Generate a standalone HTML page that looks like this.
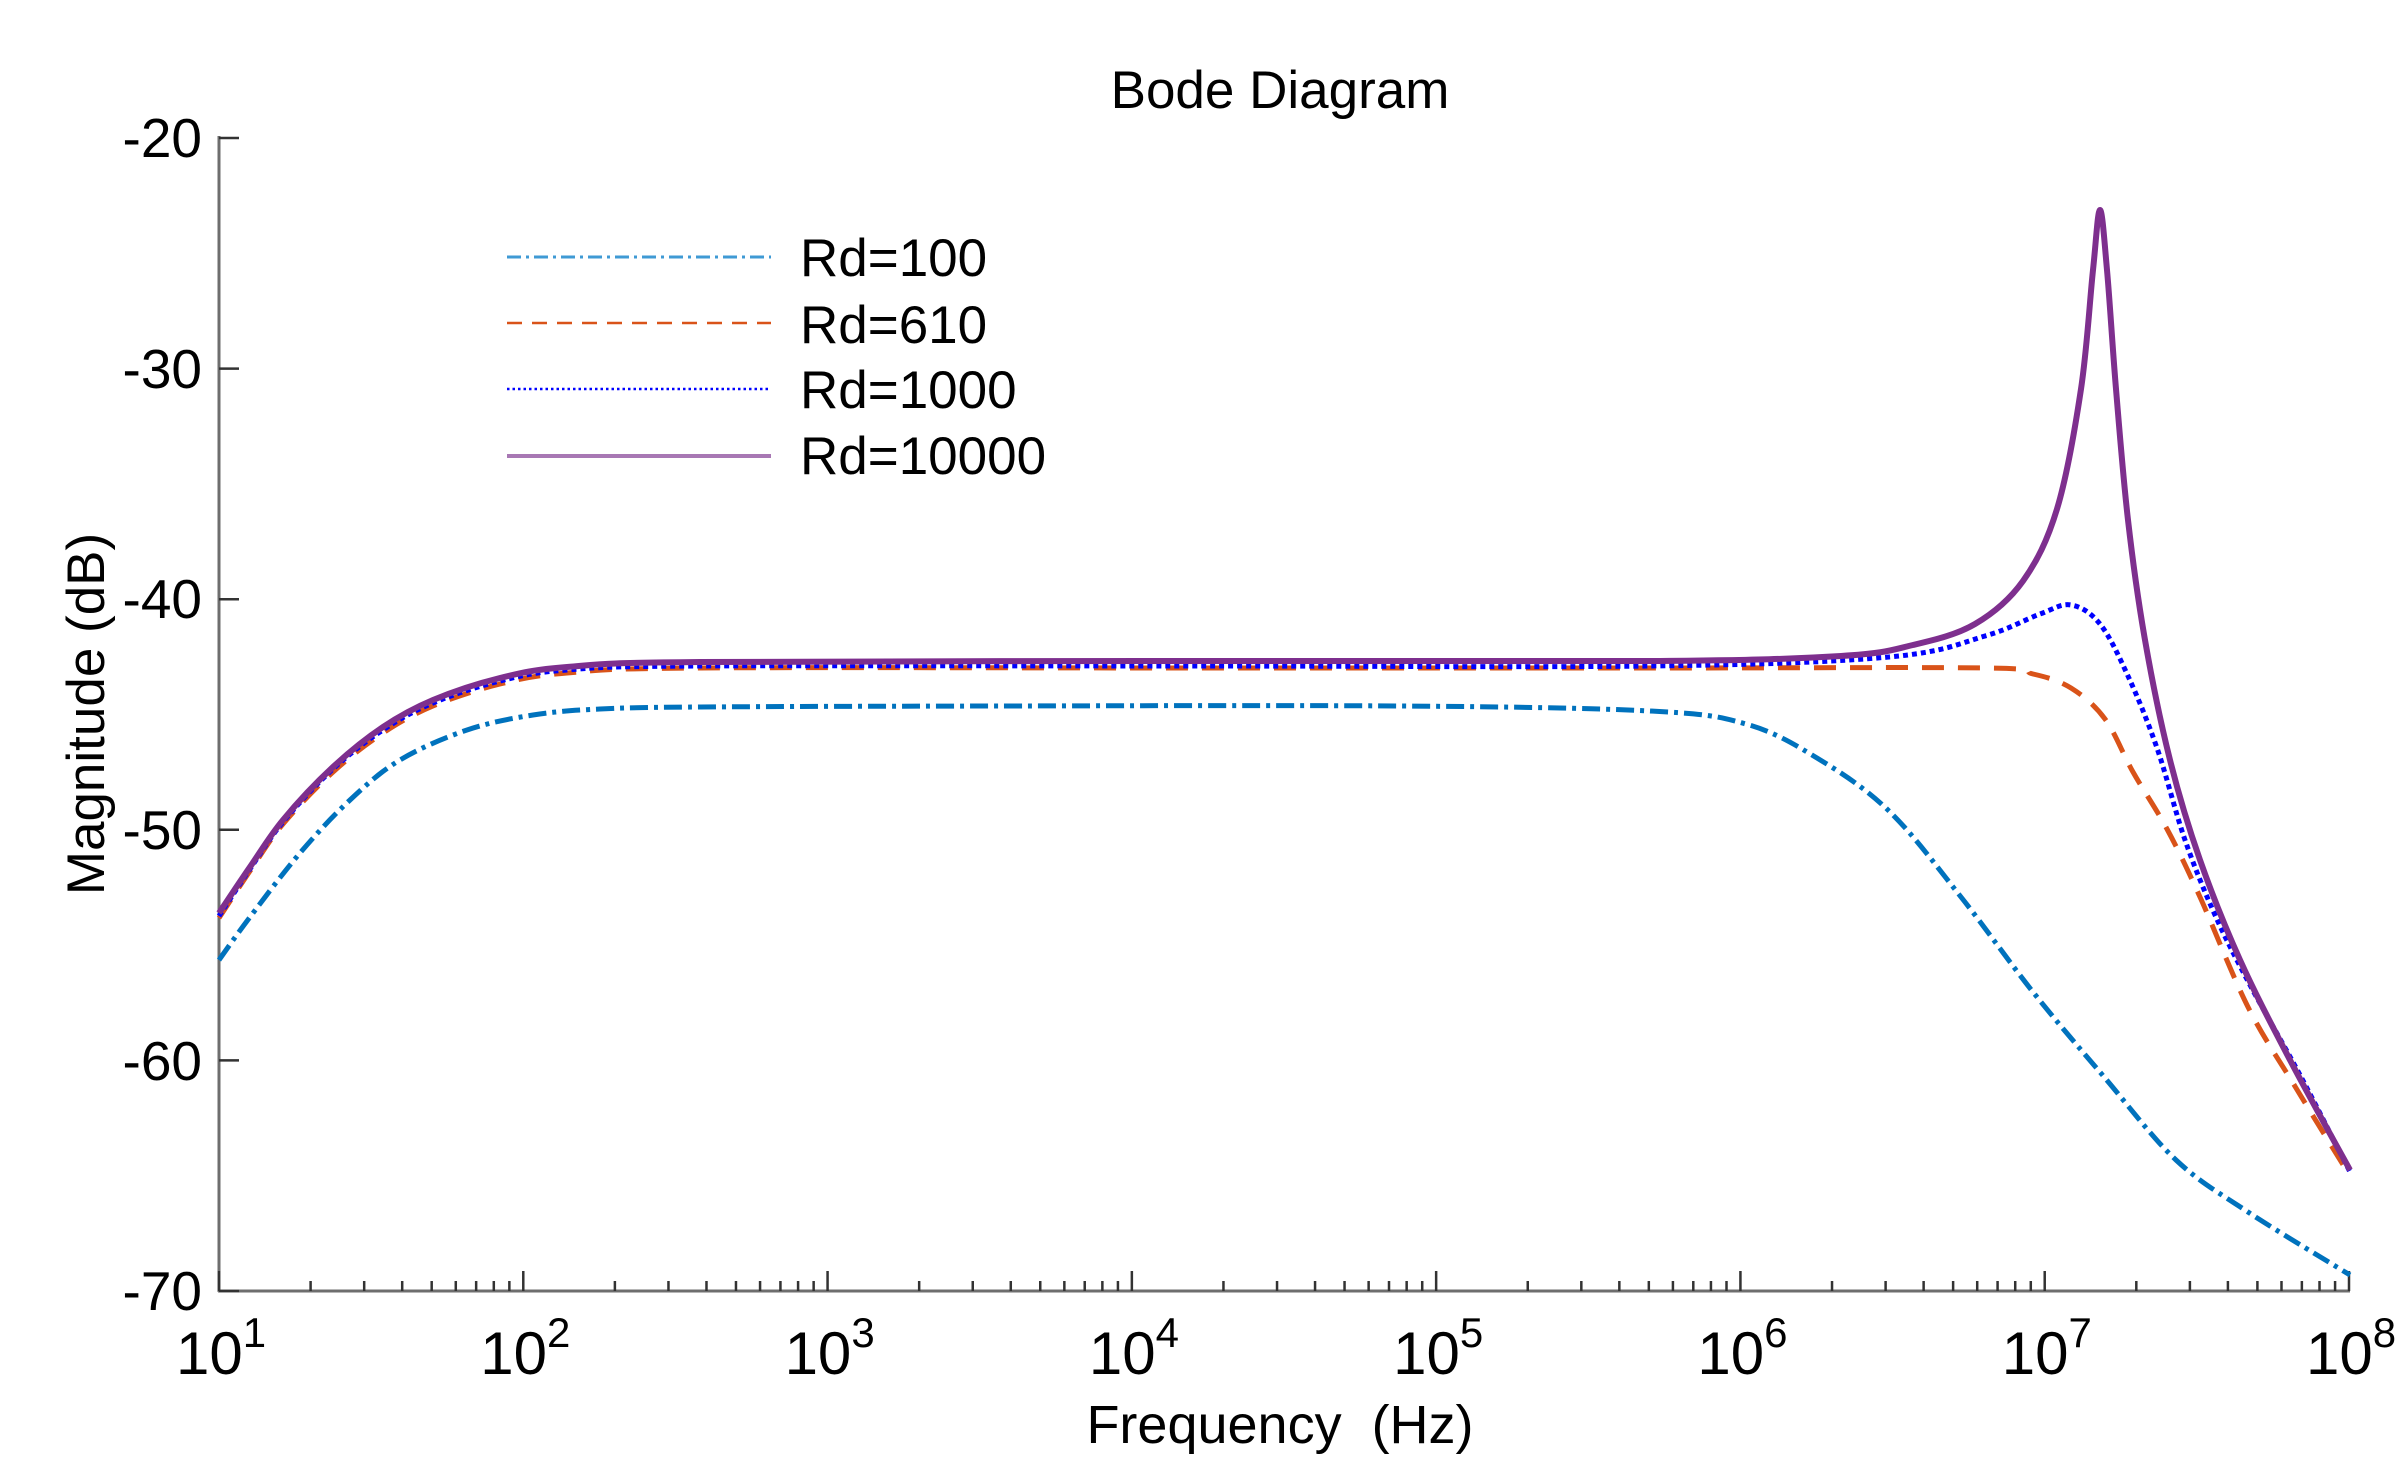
<!DOCTYPE html>
<html><head><meta charset="utf-8"><style>
html,body{margin:0;padding:0;background:#fff;}
svg{display:block;font-family:"Liberation Sans",Arial,sans-serif;}
</style></head><body>
<svg id="s" width="2397" height="1480" viewBox="0 0 2397 1480" xmlns="http://www.w3.org/2000/svg">
<rect width="2397" height="1480" fill="#fff"/>
<text x="1280" y="108" font-size="53" text-anchor="middle" fill="#000">Bode Diagram</text>
<g id="axes" stroke="#6e6e6e" stroke-width="3" fill="none">
<line x1="219" y1="136" x2="219" y2="1292"/>
<line x1="218" y1="1291" x2="2350" y2="1291"/>
</g>
<g id="ticks" stroke="#333" stroke-width="2.5"></g>
<g font-size="55" text-anchor="end" fill="#000">
<text x="202" y="157">-20</text>
<text x="202" y="388">-30</text>
<text x="202" y="618">-40</text>
<text x="202" y="849">-50</text>
<text x="202" y="1080">-60</text>
<text x="202" y="1310">-70</text>
</g>
<g id="xl" font-size="60" fill="#000"></g>
<text x="1280" y="1443" font-size="54" text-anchor="middle" fill="#000" xml:space="preserve">Frequency  (Hz)</text>
<text transform="translate(104,714) rotate(-90)" font-size="53" text-anchor="middle" fill="#000">Magnitude (dB)</text>
<g id="curves" fill="none" stroke-linecap="butt" stroke-linejoin="round"></g>
<g>
<line x1="507" y1="257" x2="771" y2="257" stroke="#3f9ad4" stroke-width="3" stroke-dasharray="14 5 3 5"/>
<line x1="507" y1="323" x2="771" y2="323" stroke="#D95319" stroke-width="2.5" stroke-dasharray="15 10"/>
<line x1="507" y1="389" x2="771" y2="389" stroke="#0000FF" stroke-width="2.5" stroke-dasharray="2.5 3"/>
<line x1="507" y1="456" x2="771" y2="456" stroke="#a878b4" stroke-width="4"/>
<g font-size="53" fill="#000">
<text x="800" y="276">Rd=100</text>
<text x="800" y="343">Rd=610</text>
<text x="800" y="408">Rd=1000</text>
<text x="800" y="474">Rd=10000</text>
</g>
</g>
</svg>
<script>
var NS="http://www.w3.org/2000/svg";
var x0=219,dec=(2349-219)/7;
var tk=document.getElementById("ticks"),xl=document.getElementById("xl");
function L(g,a,b,c,d){var l=document.createElementNS(NS,"line");l.setAttribute("x1",a);l.setAttribute("y1",b);l.setAttribute("x2",c);l.setAttribute("y2",d);g.appendChild(l);}
for(var i=0;i<6;i++){var y=138+i*230.6;L(tk,219,y,239,y);}
for(var d=0;d<=7;d++){var x=x0+d*dec;L(tk,x,1291,x,1271);
 var t=document.createElementNS(NS,"text");t.setAttribute("x",x-43);t.setAttribute("y",1374);t.textContent="10";
 var s=document.createElementNS(NS,"tspan");s.setAttribute("dy","-27");s.setAttribute("font-size","42");s.textContent=String(d+1);t.appendChild(s);xl.appendChild(t);
 if(d<7)for(var m=2;m<10;m++){var xm=x+Math.log10(m)*dec;L(tk,xm,1291,xm,1281);}}
function cr(p){var s="M"+p[0][0]+","+p[0][1];for(var i=0;i<p.length-1;i++){var a=p[i-1]||p[i],b=p[i],c=p[i+1],e=p[i+2]||c;
 s+=" C"+(b[0]+(c[0]-a[0])/6).toFixed(1)+","+(b[1]+(c[1]-a[1])/6).toFixed(1)+" "+(c[0]-(e[0]-b[0])/6).toFixed(1)+","+(c[1]-(e[1]-b[1])/6).toFixed(1)+" "+c[0]+","+c[1];}return s;}
var C=document.getElementById("curves");
function P(pts,col,w,da){var p=document.createElementNS(NS,"path");p.setAttribute("d",cr(pts));p.setAttribute("stroke",col);p.setAttribute("stroke-width",w);if(da)p.setAttribute("stroke-dasharray",da);C.appendChild(p);}
P([[219,960],[250,917],[300,853],[350,800],[400,760],[467,730],[533,715],[600,709],[700,707],[1000,706],[1400,706],[1650,711],[1746,724],[1817,758],[1889,811],[1961,897],[2033,992],[2105,1078],[2176,1160],[2248,1212],[2350,1275]],"#0072BD",5,"18 6 4 6");
P([[219,918],[250,871],[283,824],[333,772],[383,733],[433,706],[500,684],[567,673],[700,668],[1200,668],[1650,668],[1985,668],[2033,674],[2071,688],[2105,719],[2133,772],[2167,829],[2200,897],[2248,1007],[2296,1088],[2350,1176]],"#D95319",5,"22 14");
P([[219,916],[250,869],[283,822],[333,769],[383,730],[433,703],[500,681],[567,670],[700,666],[1200,666],[1650,666],[1889,657],[1985,636],[2040,614],[2071,605],[2100,624],[2128,676],[2157,748],[2185,840],[2215,915],[2250,985],[2300,1075],[2350,1172]],"#0000FF",5,"5 4");
P([[219,913],[250,867],[283,820],[333,767],[383,727],[433,700],[500,678],[567,667],[700,662],[1200,661],[1650,661],[1841,656],[1913,645],[1975,624],[2023,581],[2057,509],[2081,389],[2093,270],[2100,210],[2107,270],[2116,389],[2128,520],[2145,640],[2170,760],[2200,860],[2240,960],[2290,1060],[2350,1170]],"#7E2F8E",6,null);
</script>
</body></html>
